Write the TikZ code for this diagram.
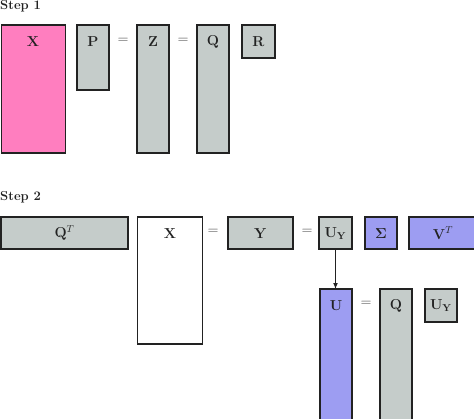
\documentclass[tikz,border=0pt]{standalone}
\usepackage{amsmath}
\usetikzlibrary{arrows.meta}
\definecolor{pinkfill}{HTML}{FF7EBF}
\definecolor{grayfill}{HTML}{C5CCCA}
\definecolor{bluefill}{HTML}{9D9DF2}
\definecolor{edgecol}{HTML}{222222}
\tikzset{
  mbox/.style={draw=edgecol, line width=1.6pt, anchor=north west, inner sep=0pt, outer sep=0pt},
  gbox/.style={mbox, fill=grayfill},
  pbox/.style={mbox, fill=pinkfill},
  bbox/.style={mbox, fill=bluefill},
  wbox/.style={mbox, fill=white},
  lab/.style={inner sep=0pt, text=edgecol, font=\fontsize{14}{16}\selectfont},
  steptitle/.style={inner sep=0pt, anchor=base west, text=edgecol, font=\fontsize{13}{15}\selectfont\bfseries},
  eqsign/.style={inner sep=0pt, text=edgecol!85, font=\fontsize{14}{16}\selectfont},
}
\begin{document}
\begin{tikzpicture}[x=1pt,y=-1pt]
\useasboundingbox (0,0) rectangle (474,418);
\clip (0,0) rectangle (474,418);
% Step 1
\node[steptitle] (s1) at (0,9.5) {Step 1};
\node[pbox, minimum width=64, minimum height=128] (X1) at (1.5,25) {};
\node[gbox, minimum width=32, minimum height=65] (P1) at (77,25) {};
\node[gbox, minimum width=32, minimum height=128] (Z1) at (137,25) {};
\node[gbox, minimum width=32, minimum height=128] (Q1) at (197,25) {};
\node[gbox, minimum width=33, minimum height=33] (R1) at (242,25) {};
\node[lab] (X1l) at (33,41.5) {$\mathbf{X}$};
\node[lab] (P1l) at (93,41.5) {$\mathbf{P}$};
\node[lab] (Z1l) at (153,41.5) {$\mathbf{Z}$};
\node[lab] (Q1l) at (213,41.5) {$\mathbf{Q}$};
\node[lab] (R1l) at (258.5,41.5) {$\mathbf{R}$};
\node[eqsign] (e1) at (123,41) {$=$};
\node[eqsign] (e2) at (183,41) {$=$};
% Step 2
\node[steptitle] (s2) at (0,200) {Step 2};
\node[gbox, minimum width=127, minimum height=32] (QT) at (1,217) {};
\node[wbox, minimum width=65, minimum height=127] (X2) at (137.5,217) {};
\node[gbox, minimum width=65, minimum height=32] (Y2) at (228,217) {};
\node[gbox, minimum width=33, minimum height=32] (UY) at (319,217) {};
\node[bbox, minimum width=32, minimum height=32] (S2) at (365,217) {};
\node[bbox, minimum width=70, minimum height=32] (VT) at (409,217) {};
\node[lab] (QTl) at (64.5,233) {$\mathbf{Q}^T$};
\node[lab] (X2l) at (170,233.5) {$\mathbf{X}$};
\node[lab] (Y2l) at (260.5,233.5) {$\mathbf{Y}$};
\node[lab] (UYl) at (335.5,233.5) {$\mathbf{U}_{\mathbf{Y}}$};
\node[lab] (S2l) at (381,233.5) {$\mathbf{\Sigma}$};
\node[lab] (VTl) at (443,233) {$\mathbf{V}^T$};
\node[eqsign] (e3) at (213,232) {$=$};
\node[eqsign] (e4) at (307,232) {$=$};
% bottom row
\node[bbox, minimum width=32, minimum height=140] (U3) at (320,289) {};
\node[gbox, minimum width=32, minimum height=140] (Q3) at (380,289) {};
\node[gbox, minimum width=32, minimum height=33] (UY3) at (425,289) {};
\node[lab] (U3l) at (336,305.5) {$\mathbf{U}$};
\node[lab] (Q3l) at (396,305.5) {$\mathbf{Q}$};
\node[lab] (UY3l) at (441,305.5) {$\mathbf{U}_{\mathbf{Y}}$};
\node[eqsign] (e5) at (366,304) {$=$};
\draw[line width=1.4pt, draw=edgecol, -{Latex[length=6pt,width=5pt]}] (UY.south) -- (UY.south |- U3.north);
\end{tikzpicture}
\end{document}
